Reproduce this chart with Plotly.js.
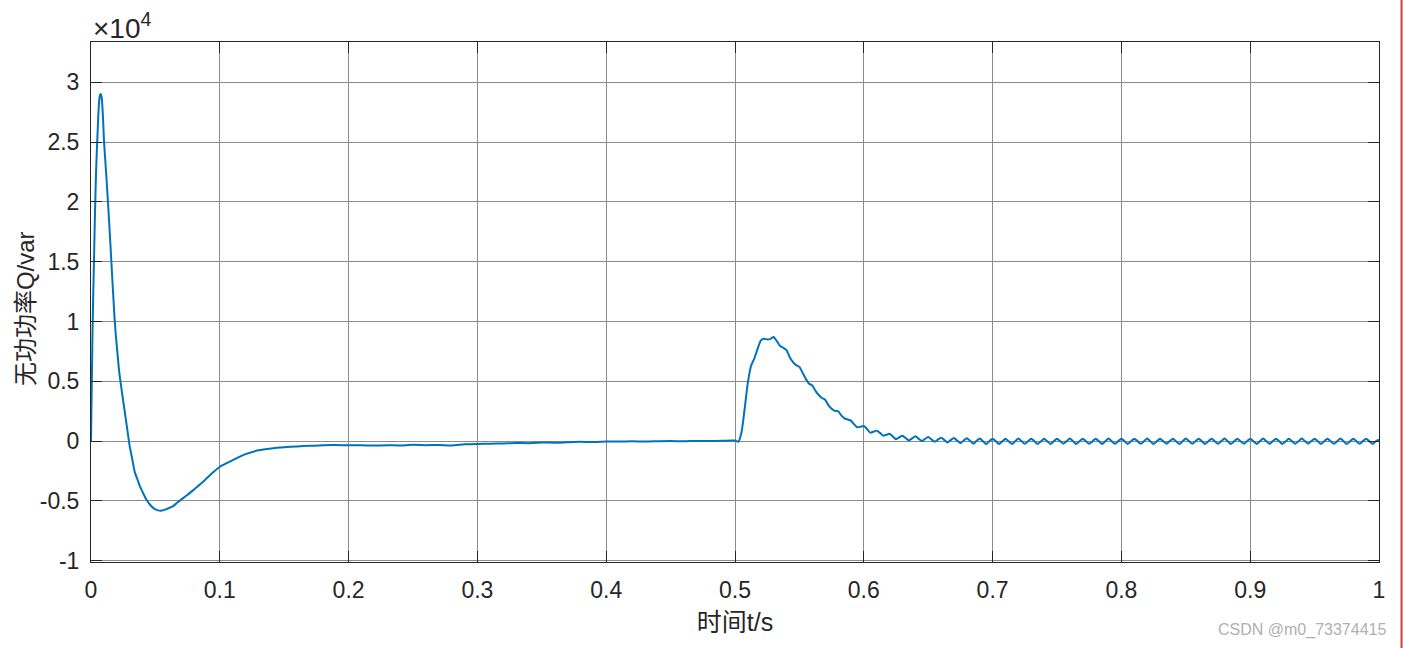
<!DOCTYPE html>
<html>
<head>
<meta charset="utf-8">
<script src="https://cdn.plot.ly/plotly-3.0.1.min.js"></script>
<style>html,body{margin:0;padding:0;background:#fff;}#chart{width:1404px;height:648px;}</style>
</head>
<body>
<div id="chart"></div>
<script>
// ---------- data (Q in units of 1e4 var) ----------
const t_start = [0,0.0005,0.001,0.0015,0.002,0.0025,0.003,0.0035,0.004,0.0045,0.005,0.0055,0.006,0.0065,0.007,0.0075,0.008,0.0085,0.009,0.0095,0.01,0.011,0.012,0.013,0.014,0.015,0.016,0.017,0.018,0.019,0.02,0.022,0.024,0.026,0.028,0.03,0.032,0.034,0.036,0.038,0.04,0.043,0.046,0.049,0.052,0.055,0.058,0.061,0.064,0.067,0.07,0.075,0.08,0.085,0.09,0.095];
const q_start = [0,0.4,0.78,1.1,1.36,1.6,1.86,2.08,2.27,2.42,2.55,2.68,2.79,2.86,2.895,2.903,2.89,2.85,2.77,2.66,2.53,2.36,2.2,2.03,1.85,1.66,1.46,1.27,1.08,0.92,0.8,0.57,0.41,0.26,0.11,-0.04,-0.15,-0.26,-0.32,-0.38,-0.425,-0.49,-0.535,-0.566,-0.58,-0.582,-0.572,-0.558,-0.542,-0.515,-0.49,-0.45,-0.405,-0.36,-0.31,-0.26];

const t_mid = [0.1,0.11,0.12,0.13,0.14,0.15,0.16,0.17,0.18,0.19,0.2,0.21,0.22,0.23,0.24,0.25,0.26,0.27,0.28,0.29,0.3,0.31,0.32,0.33,0.34,0.35,0.36,0.37,0.38,0.39,0.4,0.41,0.42,0.43,0.44,0.45,0.46,0.47,0.48,0.49];
const q_mid = [-0.215,-0.16,-0.11,-0.078,-0.062,-0.052,-0.045,-0.04,-0.035,-0.034,-0.036,-0.035,-0.038,-0.035,-0.037,-0.032,-0.035,-0.033,-0.037,-0.028,-0.024,-0.022,-0.02,-0.017,-0.018,-0.012,-0.014,-0.01,-0.007,-0.009,-0.004,-0.005,-0.002,-0.004,-0.002,0,-0.002,0.001,0,0.002];

const t_tail = [0.5,0.5025,0.505,0.5075,0.51,0.5125,0.515,0.5175,0.52,0.5225,0.525,0.5275,0.53,0.5325,0.535,0.5375,0.54,0.5425,0.545,0.5475,0.55,0.5525,0.555,0.5575,0.56,0.5625,0.565,0.5675,0.57,0.5725,0.575,0.5775,0.58,0.5825,0.585,0.5875,0.59,0.5925,0.595,0.5975,
0.6,0.6025,0.605,0.6075,0.61,0.6125,0.615,0.6175,0.62,0.6225,0.625,0.6275,0.63,0.6325,0.635,0.6375,0.64,0.6425,0.645,0.6475,0.65,0.6525,0.655,0.6575,0.66,0.6625,0.665,0.6675,0.67,0.6725,0.675,0.6775,0.68,0.6825,0.685,0.6875,0.69,0.6925,0.695,0.6975,
0.7,0.7025,0.705,0.7075,0.71,0.7125,0.715,0.7175,0.72,0.7225,0.725,0.7275,0.73,0.7325,0.735,0.7375,0.74,0.7425,0.745,0.7475,0.75,0.7525,0.755,0.7575,0.76,0.7625,0.765,0.7675,0.77,0.7725,0.775,0.7775,0.78,0.7825,0.785,0.7875,0.79,0.7925,0.795,0.7975,
0.8,0.8025,0.805,0.8075,0.81,0.8125,0.815,0.8175,0.82,0.8225,0.825,0.8275,0.83,0.8325,0.835,0.8375,0.84,0.8425,0.845,0.8475,0.85,0.8525,0.855,0.8575,0.86,0.8625,0.865,0.8675,0.87,0.8725,0.875,0.8775,0.88,0.8825,0.885,0.8875,0.89,0.8925,0.895,0.8975,
0.9,0.9025,0.905,0.9075,0.91,0.9125,0.915,0.9175,0.92,0.9225,0.925,0.9275,0.93,0.9325,0.935,0.9375,0.94,0.9425,0.945,0.9475,0.95,0.9525,0.955,0.9575,0.96,0.9625,0.965,0.9675,0.97,0.9725,0.975,0.9775,0.98,0.9825,0.985,0.9875,0.99,0.9925,0.995,0.9975,1.0];
const q_tail = [0.004,-0.006,0.07,0.27,0.49,0.63,0.69,0.77,0.84,0.855,0.85,0.855,0.87,0.835,0.795,0.78,0.76,0.7,0.66,0.635,0.62,0.57,0.52,0.48,0.465,0.42,0.385,0.36,0.345,0.3,0.27,0.252,0.25,0.215,0.19,0.18,0.17,0.14,0.115,0.12,
0.125,0.1,0.07,0.078,0.087,0.068,0.045,0.052,0.06,0.038,0.015,0.03,0.045,0.025,0.005,0.022,0.04,0.02,0,0.017,0.033,0.014,-0.005,0.012,0.028,0.009,-0.012,0.008,0.025,0.004,-0.018,0.004,0.024,0.002,-0.022,0.001,0.022,-0.001,-0.026,-0.002,
0.02,-0.002,-0.025,-0.003,0.019,-0.003,-0.024,-0.002,0.021,-0.001,-0.023,-0.002,0.02,-0.002,-0.024,-0.003,0.018,-0.003,-0.025,-0.002,0.02,-0.001,-0.022,-0.001,0.021,-0.002,-0.024,-0.002,0.019,-0.002,-0.023,-0.003,0.02,-0.001,-0.024,-0.002,0.021,-0.002,-0.023,-0.001,
0.02,-0.002,-0.024,-0.002,0.019,-0.001,-0.023,-0.002,0.021,-0.002,-0.024,-0.003,0.02,-0.002,-0.022,-0.001,0.019,-0.003,-0.024,-0.002,0.021,-0.001,-0.023,-0.002,0.02,-0.002,-0.024,-0.002,0.019,-0.002,-0.023,-0.001,0.021,-0.001,-0.024,-0.003,0.02,-0.002,-0.022,-0.002,
0.019,-0.002,-0.024,-0.002,0.021,-0.001,-0.023,-0.001,0.02,-0.002,-0.024,-0.003,0.019,-0.003,-0.023,-0.002,0.021,-0.001,-0.022,-0.001,0.02,-0.002,-0.024,-0.002,0.019,-0.002,-0.023,-0.002,0.021,-0.001,-0.024,-0.003,0.02,-0.002,-0.023,-0.001,0.019,-0.002,-0.024,-0.002,0.012];

const xTickVals = [0,0.1,0.2,0.3,0.4,0.5,0.6,0.7,0.8,0.9,1];
const xTickText = ["0","0.1","0.2","0.3","0.4","0.5","0.6","0.7","0.8","0.9","1"];
const yTickVals = [-1,-0.5,0,0.5,1,1.5,2,2.5,3];
const yTickText = ["-1","-0.5","0","0.5","1","1.5","2","2.5","3"];

const xTitle = "时间t/s";
const yTitle = "无功功率Q/var";
const expLabel = "×10<sup>4</sup>";
const watermark = "CSDN @m0_73374415";

// ---------- chart ----------
const t = t_start.concat(t_mid, t_tail);
const q = q_start.concat(q_mid, q_tail);

const FONT = "Liberation Sans, Arial, 'Noto Sans CJK SC', sans-serif";
const AX = '#262626';

const trace = {
  x: t, y: q, type: 'scatter', mode: 'lines',
  line: {color: '#0072BD', width: 2, shape: 'spline', smoothing: 0.6},
  hoverinfo: 'skip'
};

const axisCommon = {
  showline: true, linecolor: AX, linewidth: 1, mirror: 'ticks',
  ticks: 'inside', ticklen: 11, tickwidth: 1, tickcolor: AX,
  showgrid: true, gridcolor: '#8c8c8c', gridwidth: 1, zeroline: false,
  tickfont: {family: FONT, size: 23, color: AX},
  tickmode: 'array'
};

const layout = {
  width: 1404, height: 648,
  margin: {l: 91, r: 25, t: 42, b: 86},
  paper_bgcolor: '#ffffff', plot_bgcolor: '#ffffff',
  showlegend: false,
  xaxis: Object.assign({}, axisCommon, {
    range: [0, 1], tickvals: xTickVals, ticktext: xTickText,
    ticklabelstandoff: 7,
    title: {text: xTitle, font: {family: FONT, size: 25, color: AX}, standoff: 11}
  }),
  yaxis: Object.assign({}, axisCommon, {
    range: [-1.012, 3.338], tickvals: yTickVals, ticktext: yTickText,
    ticklabelstandoff: 6
  }),
  annotations: [
    {text: yTitle, xref: 'paper', yref: 'paper', x: -0.0512, y: 0.4865, xanchor: 'center', yanchor: 'middle',
     textangle: -90, showarrow: false, font: {family: FONT, size: 24, color: AX}},
    {text: expLabel, xref: 'paper', yref: 'paper', x: 0, y: 1, xanchor: 'left', yanchor: 'bottom',
     showarrow: false, font: {family: FONT, size: 28, color: AX}, xshift: 0, yshift: -4},
    {text: watermark, xref: 'paper', yref: 'paper', x: 1.007, y: -0.131, xanchor: 'right', yanchor: 'middle',
     showarrow: false, font: {family: FONT, size: 16, color: '#b0b0b0'}}
  ],
  shapes: [
    {type: 'line', xref: 'paper', yref: 'paper', x0: 1.0175, x1: 1.0175, y0: -0.17, y1: 1.09,
     line: {color: '#d23c3c', width: 2}}
  ]
};

Plotly.newPlot('chart', [trace], layout, {displayModeBar: false, staticPlot: true});
</script>
</body>
</html>
